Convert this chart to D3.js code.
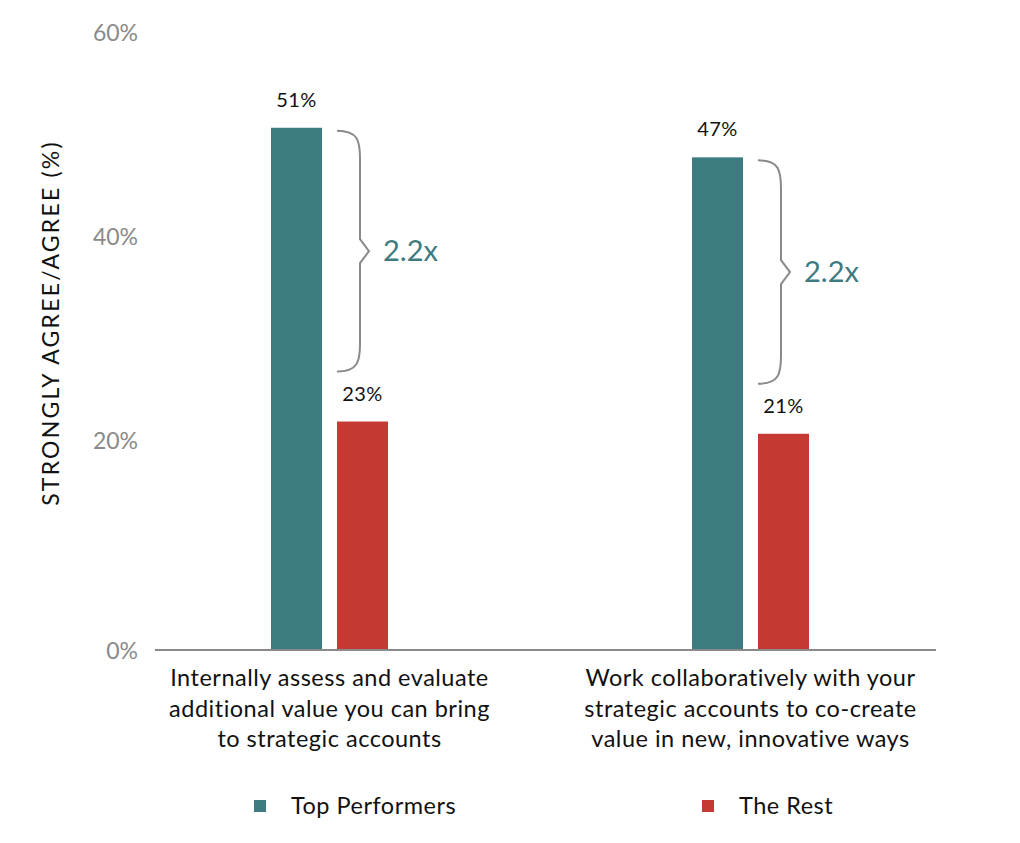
<!DOCTYPE html>
<html>
<head>
<meta charset="utf-8">
<script src="https://cdn.jsdelivr.net/npm/d3@7"></script>
<style>
  html, body { margin: 0; padding: 0; background: #fff; }
  svg { display: block; font-family: Lato, "Open Sans", sans-serif; }
</style>
</head>
<body>
<svg id="chart" width="1020" height="843"></svg>
<script>
// ---- data ----
const categories = [
  ["Internally assess and evaluate", "additional value you can bring", "to strategic accounts"],
  ["Work collaboratively with your", "strategic accounts to co-create", "value in new, innovative ways"]
];
const seriesNames = ["Top Performers", "The Rest"];
const topPerformers = [51.2, 48.3];
const theRest = [22.4, 21.2];
const topLabels = ["51%", "47%"];
const restLabels = ["23%", "21%"];
const ratioLabels = ["2.2x", "2.2x"];
const yTicks = [0, 20, 40, 60];
const colors = ["#3d7b80", "#c43a33"];

// ---- layout ----
const svg = d3.select("#chart");
const catIdx = d3.range(categories.length);

const y = d3.scaleLinear().domain([0, 60]).range([650, 38]);
const x0 = d3.scaleBand().domain(catIdx).range([119, 961]).paddingInner(0).paddingOuter(0);
const x1 = d3.scaleBand().domain(seriesNames).range([0, 117]).paddingInner(15 / 66).paddingOuter(0);
const groupLeft = i => x0(i) + x0.bandwidth() / 2 - 58.5;

// y axis ticks (labels only)
const yAxis = d3.axisLeft(y).tickValues(yTicks).tickSize(0).tickPadding(0).tickFormat(d => d + "%");
const gy = svg.append("g").attr("transform", "translate(138,0)").call(yAxis);
gy.select(".domain").remove();
gy.selectAll("text")
  .attr("fill", "#8a8a8a")
  .style("font-size", "23px")
  .style("font-family", "Lato, sans-serif")
  .attr("dy", (d, i) => i === 0 ? "0.35em" : "0.1em");

// y axis title
svg.append("text")
  .attr("transform", "translate(59,323) rotate(-90)")
  .attr("text-anchor", "middle")
  .style("font-size", "23px")
  .style("letter-spacing", "2.2px")
  .attr("fill", "#111")
  .text("STRONGLY AGREE/AGREE (%)");

// bars
const seriesData = [topPerformers, theRest];
const seriesLabels = [topLabels, restLabels];
seriesNames.forEach((s, si) => {
  const g = svg.append("g");
  g.selectAll("rect").data(seriesData[si]).join("rect")
    .attr("x", (d, i) => groupLeft(i) + x1(s))
    .attr("y", d => y(d))
    .attr("width", x1.bandwidth())
    .attr("height", d => y(0) - y(d))
    .attr("fill", colors[si]);
  g.selectAll("text").data(seriesData[si]).join("text")
    .attr("x", (d, i) => groupLeft(i) + x1(s) + x1.bandwidth() / 2)
    .attr("y", d => y(d) - 21)
    .attr("text-anchor", "middle")
    .style("font-size", "20px")
    .style("letter-spacing", "0.5px")
    .attr("fill", "#111")
    .text((d, i) => seriesLabels[si][i]);
});

// x axis baseline
svg.append("line")
  .attr("x1", 155).attr("x2", 936)
  .attr("y1", y(0)).attr("y2", y(0))
  .attr("stroke", "#8a8a8a").attr("stroke-width", 2);

// braces
catIdx.forEach(i => {
  const xs = groupLeft(i) + x1(seriesNames[1]);
  const top = y(topPerformers[i]) + 3;
  const bot = y(theRest[i]) - 50;
  const mid = (top + bot) / 2;
  const xv = xs + 23, xt = xs + 32;
  const p = d3.path();
  p.moveTo(xs, top);
  p.bezierCurveTo(xv - 2, top, xv, top + 10, xv, top + 28);
  p.lineTo(xv, mid - 12);
  p.lineTo(xt, mid);
  p.lineTo(xv, mid + 12);
  p.lineTo(xv, bot - 28);
  p.bezierCurveTo(xv, bot - 10, xv - 2, bot, xs, bot);
  svg.append("path").attr("d", p.toString())
    .attr("fill", "none").attr("stroke", "#8a8a8a").attr("stroke-width", 2);
  svg.append("text")
    .attr("x", xt + 14).attr("y", mid)
    .attr("dy", "0.35em")
    .style("font-size", "29px")
    .attr("fill", "#3d7b80")
    .text(ratioLabels[i]);
});

// category labels
catIdx.forEach(i => {
  const t = svg.append("text")
    .attr("x", x0(i) + x0.bandwidth() / 2)
    .attr("y", 686)
    .attr("text-anchor", "middle")
    .style("font-size", "23.5px")
    .style("letter-spacing", "0.5px")
    .attr("fill", "#111");
  categories[i].forEach((line, li) => {
    t.append("tspan").attr("x", x0(i) + x0.bandwidth() / 2).attr("dy", li === 0 ? 0 : 30.5).text(line);
  });
});

// legend
const legendX = [254, 702];
seriesNames.forEach((s, si) => {
  svg.append("rect")
    .attr("x", legendX[si]).attr("y", 800)
    .attr("width", 12).attr("height", 12)
    .attr("fill", colors[si]);
  svg.append("text")
    .attr("x", legendX[si] + 37).attr("y", 806)
    .attr("dy", "0.35em")
    .style("font-size", "23.5px")
    .style("letter-spacing", "0.5px")
    .attr("fill", "#111")
    .text(s);
});
</script>
</body>
</html>
